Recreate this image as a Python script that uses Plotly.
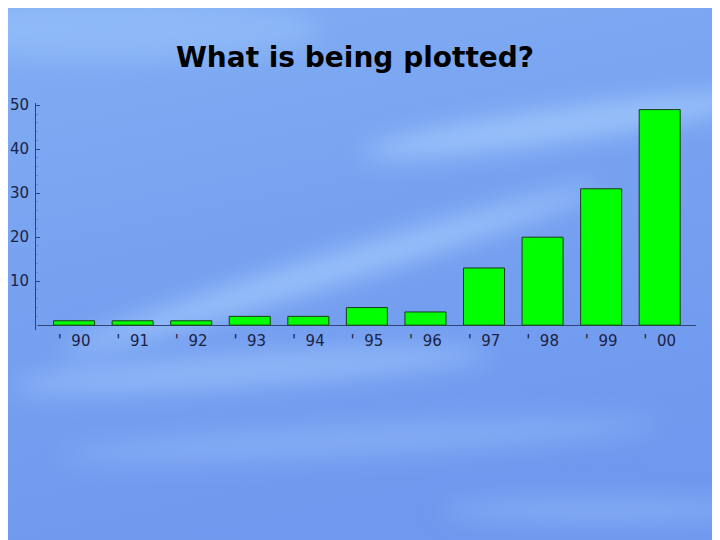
import base64
import plotly.graph_objects as go

# data
years = ["'\u00a0\u00a090", "'\u00a0\u00a091", "'\u00a0\u00a092", "'\u00a0\u00a093",
         "'\u00a0\u00a094", "'\u00a0\u00a095", "'\u00a0\u00a096", "'\u00a0\u00a097",
         "'\u00a0\u00a098", "'\u00a0\u00a099", "'\u00a0\u00a000"]
counts = [1, 1, 1, 2, 2, 4, 3, 13, 20, 31, 49]
ytick_vals = [10, 20, 30, 40, 50]

# page shows the figure shifted by the 8px body margin, so lay out in page px - 8
OFF = 8

# sky backdrop (soft blue gradient with a few blurred cloud streaks), drawn in page coords
sky_svg = f"""<svg xmlns="http://www.w3.org/2000/svg" width="720" height="540" viewBox="{OFF} {OFF} 720 540" preserveAspectRatio="none">
<defs>
<linearGradient id="g" x1="0" y1="0" x2="0.3" y2="1">
<stop offset="0" stop-color="#82aef4"/>
<stop offset="0.45" stop-color="#77a2f0"/>
<stop offset="1" stop-color="#6f98ee"/>
</linearGradient>
<filter id="b" x="-50%" y="-50%" width="200%" height="200%"><feGaussianBlur stdDeviation="12"/></filter>
</defs>
<rect x="0" y="0" width="760" height="560" fill="url(#g)"/>
<g filter="url(#b)" fill="#a9d2ff">
<ellipse cx="120" cy="30" rx="200" ry="30" opacity="0.35"/>
<ellipse cx="560" cy="125" rx="200" ry="16" transform="rotate(-8 560 125)" opacity="0.7"/>
<ellipse cx="330" cy="270" rx="280" ry="14" transform="rotate(-17 330 270)" opacity="0.7"/>
<ellipse cx="250" cy="370" rx="240" ry="16" transform="rotate(-4 250 370)" opacity="0.5"/>
<ellipse cx="360" cy="440" rx="300" ry="14" transform="rotate(-3 360 440)" opacity="0.35"/>
<ellipse cx="600" cy="510" rx="160" ry="12" opacity="0.35"/>
</g>
</svg>"""
sky_uri = "data:image/svg+xml;base64," + base64.b64encode(sky_svg.encode()).decode()

# plot area in figure pixels
L, R, T, B = 36 - OFF, 696 - OFF, 103 - OFF, 330 - OFF
pw, ph = R - L, B - T

fig = go.Figure()
fig.add_trace(go.Bar(
    x=years, y=counts, width=0.7,
    marker=dict(color="#00ff00", line=dict(color="#1e3a1e", width=1)),
    hoverinfo="x+y",
))

fig.add_layout_image(dict(
    source=sky_uri, xref="paper", yref="paper",
    x=-L / pw, y=1 + T / ph,
    sizex=720 / pw, sizey=540 / ph,
    xanchor="left", yanchor="top", sizing="stretch", layer="below",
))

fig.update_layout(
    width=720, height=540,
    margin=dict(l=L, r=720 - R, t=T, b=540 - B, autoexpand=False),
    paper_bgcolor="#77a2f0", plot_bgcolor="rgba(0,0,0,0)",
    showlegend=False,
    title=dict(text="<b>What is being plotted?</b>",
               font=dict(family="DejaVu Sans", size=28, color="black"),
               x=(355 - OFF) / 720, xref="container", y=1 - (57 - OFF) / 540, yref="container",
               xanchor="center", yanchor="middle"),
    font=dict(family="DejaVu Sans", color="#1c2244"),
)
fig.update_xaxes(
    type="category", range=[-0.65, 10.62], automargin=False,
    showline=False, showgrid=False, ticks="",
    tickfont=dict(size=15, family="DejaVu Sans", color="#1c2244"),
)
fig.update_yaxes(
    range=[-1.1, 50.5], tickvals=ytick_vals, automargin=False,
    showline=True, linecolor="#34427a", linewidth=1,
    showgrid=False, zeroline=True, zerolinecolor="#34427a", zerolinewidth=1,
    ticks="inside", ticklen=4, tickcolor="#34427a",
    minor=dict(dtick=2, ticks="inside", ticklen=2, tickcolor="#6b7fb0", showgrid=False),
    ticklabelstandoff=3,
    tickfont=dict(size=15, family="DejaVu Sans", color="#1c2244"),
)

fig.write_html("out.html")
